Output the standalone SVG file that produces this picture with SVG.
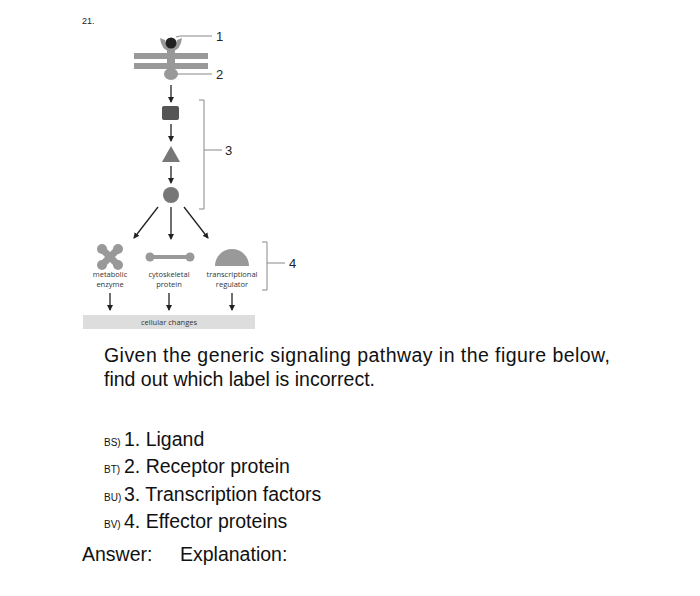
<svg xmlns="http://www.w3.org/2000/svg" width="700" height="596" viewBox="0 0 700 596">
<defs>
<marker id="ah" markerWidth="6" markerHeight="6" refX="5" refY="3" orient="auto" markerUnits="userSpaceOnUse"><path d="M0,0 L6,3 L0,6 z" fill="#222"/></marker>
<style>
.a{stroke:#222;stroke-width:1.3;fill:none;marker-end:url(#ah)}
.g{fill:#999}
.br{stroke:#888;stroke-width:1;fill:none}
.s{font-family:"Open Sans","DejaVu Sans",sans-serif;font-size:7.5px;fill:#333;text-anchor:middle}
.n{font-family:"Liberation Sans",Arial,sans-serif;font-size:13px;fill:#222}
.t{font-family:"Liberation Sans",Arial,sans-serif;font-size:19.5px;fill:#111}
.sm{font-family:"Liberation Sans",Arial,sans-serif;font-size:10px;fill:#111}
</style>
</defs>
<rect width="700" height="596" fill="#fff"/>
<text x="82" y="24" class="n" style="font-size:9px">21.</text>
<g id="membrane"><rect x="134" y="53" width="74" height="6" class="g"/><rect x="134" y="63" width="74" height="6" class="g"/></g>
<g id="receptor"><path d="M160,38 Q161,50 171,52 Q181,50 182,38 L177,40 Q176,47 171,47 Q166,47 165,40 Z" class="g"/><rect x="167" y="48" width="8" height="24" class="g"/><ellipse cx="171" cy="74" rx="7" ry="6" class="g"/></g>
<g id="ligand"><circle cx="171" cy="43" r="5.5" fill="#222"/></g>
<g id="square"><rect x="162" y="106" width="17" height="14" rx="2" fill="#555"/></g>
<g id="triangle"><path d="M171,146 L180,162 L162,162 Z" fill="#777"/></g>
<g id="circle"><circle cx="171" cy="195" r="8" fill="#777"/></g>
<g id="enzyme"><g fill="#999"><path d="M103,250 L117,264 M117,250 L103,264" stroke="#999" stroke-width="7"/><circle cx="102" cy="249" r="5"/><circle cx="118" cy="249" r="5"/><circle cx="102" cy="265" r="5"/><circle cx="118" cy="265" r="5"/></g><text x="110" y="277" class="s">metabolic</text><text x="110" y="287" class="s">enzyme</text></g>
<g id="cyto"><g fill="#999"><rect x="150" y="255" width="40" height="4"/><circle cx="150" cy="257" r="4.5"/><circle cx="190" cy="257" r="4.5"/></g><text x="169" y="277" class="s">cytoskeletal</text><text x="169" y="287" class="s">protein</text></g>
<g id="transc"><path d="M215,266 A17,17 0 0 1 249,266 Z" fill="#999"/><text x="232" y="277" class="s">transcriptional</text><text x="232" y="287" class="s">regulator</text></g>
<g id="cellular"><rect x="83" y="315" width="172" height="14" fill="#ddd"/><text x="169" y="325" class="s">cellular changes</text></g>
<g id="connectors">
<line x1="171" y1="85" x2="171" y2="102" class="a"/>
<line x1="171" y1="124" x2="171" y2="141" class="a"/>
<line x1="171" y1="166" x2="171" y2="183" class="a"/>
<line x1="158" y1="207" x2="134" y2="238" class="a"/>
<line x1="171" y1="207" x2="171" y2="239" class="a"/>
<line x1="184" y1="207" x2="208" y2="238" class="a"/>
<line x1="110" y1="293" x2="110" y2="310" class="a"/>
<line x1="169" y1="293" x2="169" y2="310" class="a"/>
<line x1="232" y1="293" x2="232" y2="310" class="a"/>
<path d="M176,37 L180,36 L212,36" class="br"/>
<line x1="177" y1="74" x2="212" y2="74" class="br"/>
<path d="M199,100 H204 V209 H199 M204,150 H222" class="br"/>
<path d="M262,242 H267 V290 H262 M267,263 H285" class="br"/>
</g>
<text x="216" y="41" class="n">1</text>
<text x="216" y="79" class="n">2</text>
<text x="225" y="155" class="n">3</text>
<text x="289" y="268" class="n">4</text>
<text x="104" y="362" class="t" textLength="506">Given the generic signaling pathway in the figure below,</text>
<text x="104" y="386" class="t">find out which label is incorrect.</text>
<text x="104" y="446" class="sm">BS)</text><text x="124" y="446" class="t">1. Ligand</text>
<text x="104" y="473" class="sm">BT)</text><text x="124" y="473" class="t">2. Receptor protein</text>
<text x="104" y="501" class="sm">BU)</text><text x="124" y="501" class="t">3. Transcription factors</text>
<text x="104" y="528" class="sm">BV)</text><text x="124" y="528" class="t">4. Effector proteins</text>
<text x="82" y="561" class="t">Answer:</text>
<text x="180" y="561" class="t">Explanation:</text>
</svg>
